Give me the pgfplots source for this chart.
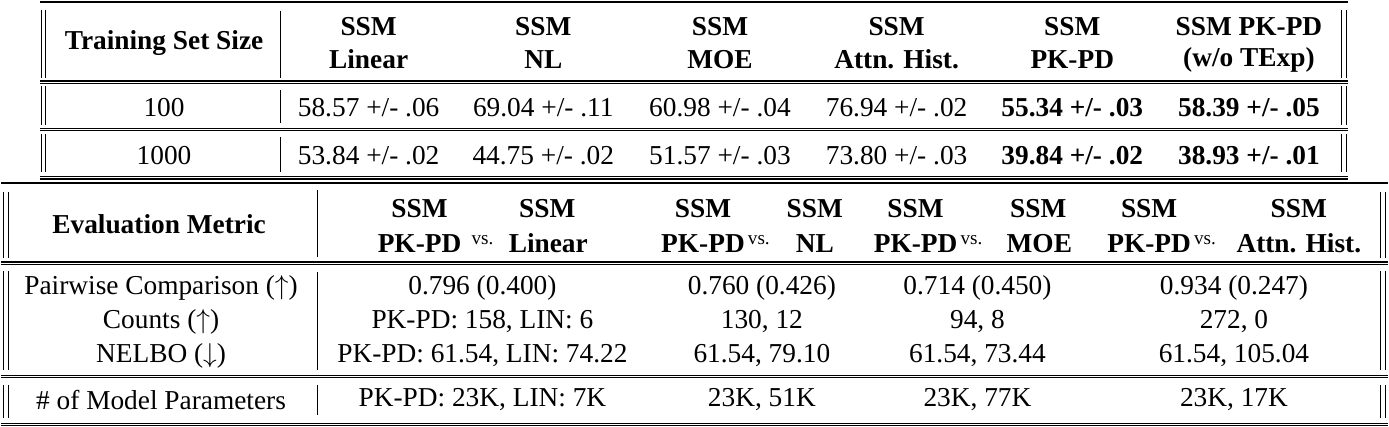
\documentclass[border=0pt]{standalone}
\usepackage{pgfplots}
\usepackage{pgfplotstable}
\usepackage{fontspec}
\pgfplotsset{compat=1.18}
\setmainfont{Liberation Serif}

% cell texts: x, y (pixels from top), label
\pgfplotstableread{
x y label
163 43 {Training Set Size}
368 26 SSM
543 26 SSM
720 26 SSM
897 26 SSM
1073 26 SSM
1250 26 {SSM PK-PD}
368 59 Linear
543 59 NL
720 59 MOE
897 59 {Attn. Hist.}
1073 59 PK-PD
1250 59 {(w/o TExp)}
1073 107 {55.34 +/- .03}
1250 107 {58.39 +/- .05}
1073 155 {39.84 +/- .02}
1250 155 {38.93 +/- .01}
158 224 {Evaluation Metric}
419 208 SSM
419 243 PK-PD
547 208 SSM
548 243 Linear
703 208 SSM
703 243 PK-PD
815 208 SSM
815 243 NL
916 208 SSM
916 243 PK-PD
1039 208 SSM
1040 243 MOE
1150 208 SSM
1150 243 PK-PD
1300 208 SSM
1300 243 {Attn. Hist.}
}\boldcells

\pgfplotstableread{
x y label
163 107 100
368 107 {58.57 +/- .06}
543 107 {69.04 +/- .11}
720 107 {60.98 +/- .04}
897 107 {76.94 +/- .02}
163 155 1000
368 155 {53.84 +/- .02}
543 155 {44.75 +/- .02}
720 155 {51.57 +/- .03}
897 155 {73.80 +/- .03}
160 288 {Pairwise Comparison ($\uparrow$)}
160 322 {Counts ($\uparrow$)}
160 356 {NELBO ($\downarrow$)}
160 400 {$\#$ of Model Parameters}
482 288 {0.796 (0.400)}
482 322 {PK-PD: 158, LIN: 6}
482 356 {PK-PD: 61.54, LIN: 74.22}
482 400 {PK-PD: 23K, LIN: 7K}
762 288 {0.760 (0.426)}
762 322 {130, 12}
762 356 {61.54, 79.10}
762 400 {23K, 51K}
978 288 {0.714 (0.450)}
978 322 {94, 8}
978 356 {61.54, 73.44}
978 400 {23K, 77K}
1235 288 {0.934 (0.247)}
1235 322 {272, 0}
1235 356 {61.54, 105.04}
1235 400 {23K, 17K}
}\plaincells

\pgfplotstableread{
x y label
482 240 vs.
759 240 vs.
972 240 vs.
1206 240 vs.
}\vscells

\newcommand{\hr}[3]{\addplot[black, line width=0.45pt] coordinates {(#1,#3) (#2,#3)};}
\newcommand{\vr}[3]{\addplot[black, line width=0.4pt] coordinates {(#1,#2) (#1,#3)};}

\pgfplotsset{cells/.style={only marks, mark=none, nodes near coords,
    point meta=explicit symbolic,
    nodes near coords style={anchor=center, inner sep=0pt, #1}}}

\begin{document}
\begin{tikzpicture}
\begin{axis}[
    scale only axis,
    width=507pt, height=156.6pt,
    xmin=0, xmax=1389, ymin=0, ymax=429,
    y dir=reverse,
    hide axis,
    clip=false,
]

% rules of the upper table
\hr{39}{1349}{0.8}
\hr{39}{1349}{2.2}
\hr{39}{1349}{80.5}
\hr{39}{1349}{82.8}
\hr{39}{1349}{128}
\hr{39}{1349}{130.3}
\hr{39}{1349}{176.5}
\hr{39}{1349}{178.8}
\vr{39.8}{9}{78}
\vr{44.3}{9}{78}
\vr{39.8}{86}{125}
\vr{44.3}{86}{125}
\vr{39.8}{134}{172}
\vr{44.3}{134}{172}
\vr{279.5}{10}{78}
\vr{279.5}{90}{123}
\vr{279.5}{137}{172}
\vr{1343}{9}{78}
\vr{1347.5}{9}{78}
\vr{1343}{86}{125}
\vr{1347.5}{86}{125}
\vr{1343}{134}{172}
\vr{1347.5}{134}{172}

% rules of the lower table
\hr{0}{1389}{182.3}
\hr{0}{1389}{183.3}
\hr{0}{1389}{262}
\hr{0}{1389}{264.3}
\hr{0}{1389}{375.5}
\hr{0}{1389}{377.8}
\hr{0}{1389}{423.5}
\hr{0}{1389}{425.8}
\vr{2.5}{192}{258}
\vr{7}{192}{258}
\vr{2.5}{271}{370}
\vr{7}{271}{370}
\vr{2.5}{385}{418}
\vr{7}{385}{418}
\vr{316.5}{190}{257}
\vr{316.5}{272}{370}
\vr{316.5}{385}{415}
\vr{1382}{192}{258}
\vr{1386.5}{192}{258}
\vr{1382}{271}{370}
\vr{1386.5}{271}{370}
\vr{1382}{385}{418}
\vr{1386.5}{385}{418}

% cell texts
\addplot[cells={font=\bfseries}] table[x=x, y=y, meta=label] {\boldcells};
\addplot[cells={}] table[x=x, y=y, meta=label] {\plaincells};
\addplot[cells={font=\fontsize{7}{8}\selectfont}] table[x=x, y=y, meta=label] {\vscells};

\end{axis}
\end{tikzpicture}
\end{document}
